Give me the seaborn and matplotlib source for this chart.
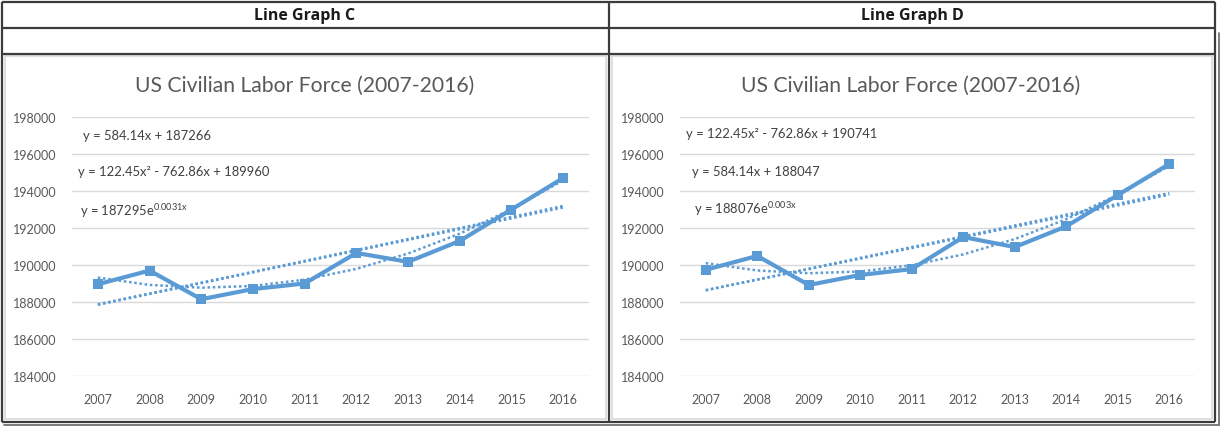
"""
Line Graph C / D - US Civilian Labor Force (2007-2016) with Excel-style trendlines
"""

import numpy as np
import pandas as pd
import matplotlib
matplotlib.use('Agg')
import matplotlib.pyplot as plt
import seaborn as sns

# ── Data ────────────────────────────────────────────────────────────────────
years = ['2007', '2008', '2009', '2010', '2011', '2012', '2013', '2014', '2015', '2016']
labor_c = [188960, 189700, 188150, 188700, 189000, 190650, 190170, 191300, 193000, 194700]
labor_d = [189740, 190490, 188920, 189460, 189780, 191510, 190970, 192090, 193780, 195460]

# trendline coefficients as printed on the charts
lin_c = [584.14, 187266]
poly_c = [122.45, -762.86, 189960]
exp_c = [187295, 0.0031]
lin_d = [584.14, 188047]
poly_d = [122.45, -762.86, 190741]
exp_d = [188076, 0.003]

eq_c = ['y = 584.14x + 187266', 'y = 122.45x² - 762.86x + 189960',
        'y = 187295e$^{\\mathregular{0.0031x}}$']
eq_d = ['y = 122.45x² - 762.86x + 190741', 'y = 584.14x + 188047',
        'y = 188076e$^{\\mathregular{0.003x}}$']

yticks = [184000, 186000, 188000, 190000, 192000, 194000, 196000, 198000]

# ── Style ───────────────────────────────────────────────────────────────────
sns.set_theme(style='white')
plt.rcParams['font.family'] = ['Lato', 'DejaVu Sans']
plt.rcParams['mathtext.fontset'] = 'custom'
plt.rcParams['mathtext.rm'] = 'Lato'

BLUE = '#5b9bd5'
GRID = '#d9d9d9'
TXT = '#595959'
W, H = 1220, 427

fig = plt.figure(figsize=(W / 100, H / 100), dpi=100)

# table frame drawn in pixel space
bg = fig.add_axes([0, 0, 1, 1])
bg.set_xlim(0, W); bg.set_ylim(H, 0); bg.axis('off')
bc = '#3c3c3c'
for yy in [3, 29, 55, 423]:
    bg.plot([2, 1215], [yy, yy], color=bc, lw=1.6, solid_capstyle='butt')
for xx in [2, 609, 1215]:
    bg.plot([xx, xx], [3, 423], color=bc, lw=1.6, solid_capstyle='butt')
bg.plot([1218.5, 1218.5], [34, 426], color='#666666', lw=1.2)
bg.plot([4, 1218.5], [426, 426], color='#666666', lw=1.2)
for x0, x1 in [(5, 606), (612, 1212)]:
    bg.add_patch(plt.Rectangle((x0, 57), x1 - x0, 363, fill=False,
                               edgecolor=GRID, lw=1.2))

for hx, htxt in [(305, 'Line Graph C'), (912, 'Line Graph D')]:
    fig.text(hx / W, 1 - 16 / H, htxt, ha='center', va='center',
             fontsize=11.5, fontweight='bold', color='#1a1a1a',
             family=['Open Sans', 'DejaVu Sans'])


def draw_chart(left, right, values, lin, poly, expo, eqs, eq_pos, title_x):
    top, bottom = 118, 377
    ax = fig.add_axes([left / W, 1 - bottom / H, (right - left) / W, (bottom - top) / H])
    x = np.arange(1, len(years) + 1)
    pos = x - 1
    df = pd.DataFrame({'pos': pos, 'value': values})

    t_lin = lin[0] * x + lin[1]
    t_poly = poly[0] * x ** 2 + poly[1] * x + poly[2]
    t_exp = expo[0] * np.exp(expo[1] * x)
    for trend in [t_poly, t_lin, t_exp]:
        sns.lineplot(x=pos, y=trend, ax=ax, color=BLUE, lw=1.8,
                     linestyle=(0, (1, 1.1)), zorder=3)

    sns.lineplot(data=df, x='pos', y='value', ax=ax, color=BLUE, lw=3,
                 marker='s', markersize=7, markeredgewidth=0, zorder=4)

    ax.set_xlim(-0.5, len(years) - 0.5)
    ax.set_ylim(184000, 198000)
    ax.set_yticks(yticks)
    ax.set_yticklabels([str(v) for v in yticks])
    ax.set_xticks(pos)
    ax.set_xticklabels(years)
    ax.set_xlabel(''); ax.set_ylabel('')
    ax.grid(axis='y', color=GRID, lw=1)
    ax.set_axisbelow(True)
    for s in ax.spines.values():
        s.set_visible(False)
    ax.tick_params(axis='both', length=0, labelsize=9, labelcolor=TXT)
    ax.tick_params(axis='y', pad=11)
    ax.tick_params(axis='x', pad=12)

    fig.text(title_x / W, 1 - 86 / H, 'US Civilian Labor Force (2007-2016)',
             ha='center', va='center', fontsize=15.2, color=TXT)
    for txt, (ex, ey) in zip(eqs, eq_pos):
        fig.text(ex / W, 1 - ey / H, txt, ha='left', va='center',
                 fontsize=9.4, color='#404040')
    return ax


draw_chart(72, 589, labor_c, lin_c, poly_c, exp_c, eq_c,
           [(83, 136), (78, 172), (80, 211)], 305)
draw_chart(680, 1195, labor_d, lin_d, poly_d, exp_d, eq_d,
           [(686, 134), (692, 172), (694, 209)], 911)

plt.savefig('out.png', dpi=100)
plt.close()
